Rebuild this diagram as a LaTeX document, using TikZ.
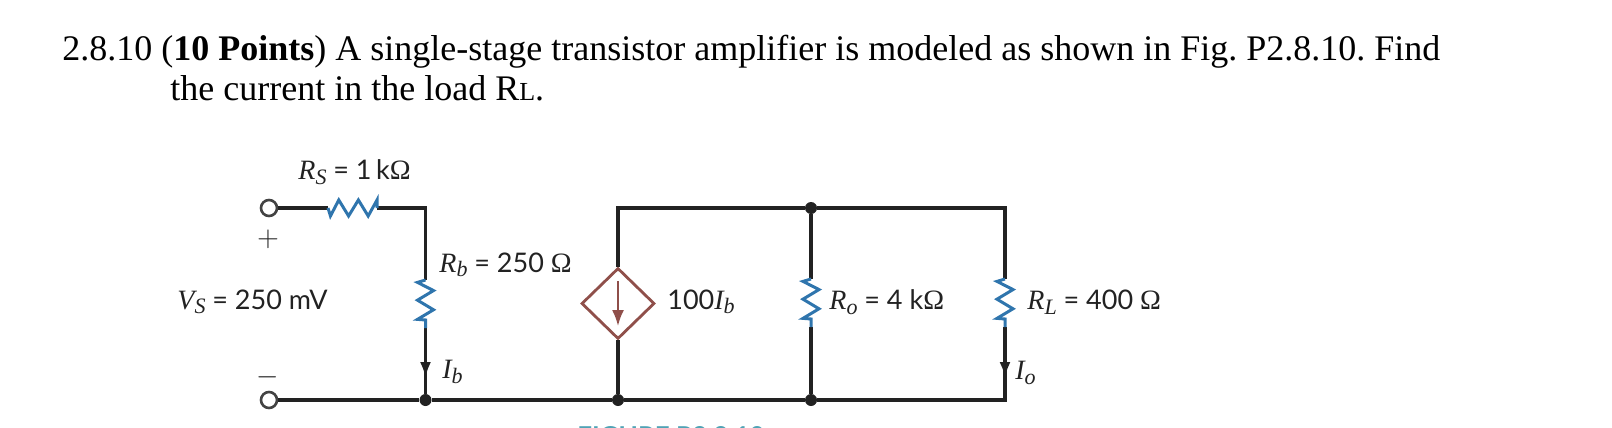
\documentclass[tikz,border=0pt]{standalone}
\usepackage{amsmath,amssymb}
\usepackage{fontspec}
\setmainfont{Liberation Serif}
\newfontfamily\circfont{Lato}
\newcommand{\var}[2]{{\rmfamily\itshape\fontsize{14}{15}\selectfont #1\raisebox{-.35ex}{\fontsize{11}{11}\selectfont #2}}}
\newcommand{\ohm}{{\rmfamily\fontsize{14}{15}\selectfont Ω}}
\newcommand{\zz}[2]{-- ($(\tikztostart)!#1!(\tikztotarget)!4pt!#2:(\tikztotarget)$)}
\usetikzlibrary{arrows.meta,calc,shapes.geometric}
\definecolor{wirecol}{HTML}{222222}
\definecolor{rescol}{HTML}{2F75AD}
\definecolor{srccol}{HTML}{8F4F4A}
\definecolor{capcol}{HTML}{4FA3B5}
\tikzset{
  wire/.style={draw=wirecol,line width=1.7pt,line join=miter},
  res/.style={draw=rescol,line width=1.5pt,
    to path={\zz{.05}{-90}\zz{.22}{90}\zz{.42}{-90}\zz{.62}{90}\zz{.82}{-90}\zz{1}{90} -- (\tikztotarget)}},
  dot/.style={circle,fill=wirecol,inner sep=0pt,minimum size=6pt},
  term/.style={circle,draw=wirecol!85,fill=white,line width=1.3pt,inner sep=0pt,minimum size=8pt},
  lab/.style={font=\circfont\fontsize{13.5}{15}\selectfont,text=wirecol,inner sep=0pt},
  title/.style={font=\fontsize{18}{22}\selectfont\frenchspacing,text=black,inner sep=0pt,anchor=base west},
  tip/.style={-{Latex[length=8pt,width=5.5pt]},draw=wirecol,line width=1.7pt}
}
\begin{document}
\begin{tikzpicture}[x=0.5pt,y=-0.5pt]
\useasboundingbox (0,0) rectangle (1612,428);
\node[title] (line1) at (62,60) {2.8.10 (\textbf{10 Points}) A single-stage transistor amplifier is modeled as shown in Fig. P2.8.10. Find};
\node[title] (line2) at (170,100) {the current in the load R{\fontsize{13}{15}\selectfont L}.};
% junctions and terminals
\node[term] (vp) at (269,208) {};
\node[term] (vm) at (269,400) {};
\coordinate (rs1) at (328,208);
\coordinate (rs2) at (377,208);
\coordinate (c1) at (425.5,208);
\coordinate (rb1) at (425.5,280);
\coordinate (rb2) at (425.5,328);
\node[dot] (n1) at (425.5,400) {};
\node[dot] (n2) at (618,400) {};
\node[dot] (n3) at (811,400) {};
\coordinate (c2) at (1005,400);
\coordinate (c3) at (618,208);
\node[dot] (t1) at (811,208) {};
\coordinate (c4) at (1005,208);
\coordinate (ro1) at (811,279);
\coordinate (ro2) at (811,327);
\coordinate (rl1) at (1005,279);
\coordinate (rl2) at (1005,327);
% source
\node[diamond,draw=srccol,line width=1.4pt,minimum width=36.5pt,minimum height=35.5pt,inner sep=0pt,aspect=1] (src) at (618,303.5) {};
\coordinate (sa) at (618,281);
\coordinate (sb) at (618,326);
\draw[-{Latex[length=8pt,width=6pt]},draw=srccol,line width=1pt] (sa) to (sb);
% wires
\draw[wire] (vp) to (rs1);
\draw[wire] (rs2) -| (rb1);
\draw[wire] (vm) to (n1);
\draw[wire] (n1) to (n2);
\draw[wire] (n2) to (n3);
\draw[wire] (n3) -- (c2) -- (rl2);
\draw[wire] (src.north) |- (t1);
\draw[wire] (src.south) to (n2);
\draw[wire] (t1) -| (rl1);
\draw[wire] (t1) to (ro1);
\draw[wire] (ro2) to (n3);
\draw[wire] (rb2) to (n1);
% resistors
\draw[res] (rs1) to (rs2);
\draw[res] (rb1) to (rb2);
\draw[res] (ro1) to (ro2);
\draw[res] (rl1) to (rl2);
% arrows
\coordinate (ib1) at (425.5,350);
\coordinate (ib2) at (425.5,378);
\coordinate (io1) at (1005,345);
\coordinate (io2) at (1005,378);
\draw[tip] (ib1) to (ib2);
\draw[tip] (io1) to (io2);
% labels
\node[lab,anchor=west] (lrs) at (298,172) {\var{R}{S} = 1\,k\ohm};
\node[lab,anchor=west] (lrb) at (439,265) {\var{R}{b} = 250 \ohm};
\node[lab,anchor=west] (lvs) at (177,302) {\var{V}{S} = 250 mV};
\node[lab,anchor=west] (lsrc) at (667,302) {100\var{I}{b}};
\node[lab,anchor=west] (lro) at (829,302) {\var{R}{o} = 4 k\ohm};
\node[lab,anchor=west] (lrl) at (1027,302) {\var{R}{L} = 400 \ohm};
\node[lab,anchor=west] (lib) at (442,372) {\var{I}{b}};
\node[lab,anchor=west] (lio) at (1015,373) {\var{I}{o}};
\node[lab,font=\fontsize{15}{15}\selectfont] (lp) at (268,239) {$+$};
\node[lab,font=\fontsize{15}{15}\selectfont] (lm) at (268,377) {$-$};
\node[font=\circfont\bfseries\fontsize{13}{14}\selectfont,text=capcol,inner sep=0pt,anchor=north west] (cap) at (577,426) {FIGURE P2.8.10};
\end{tikzpicture}
\end{document}
